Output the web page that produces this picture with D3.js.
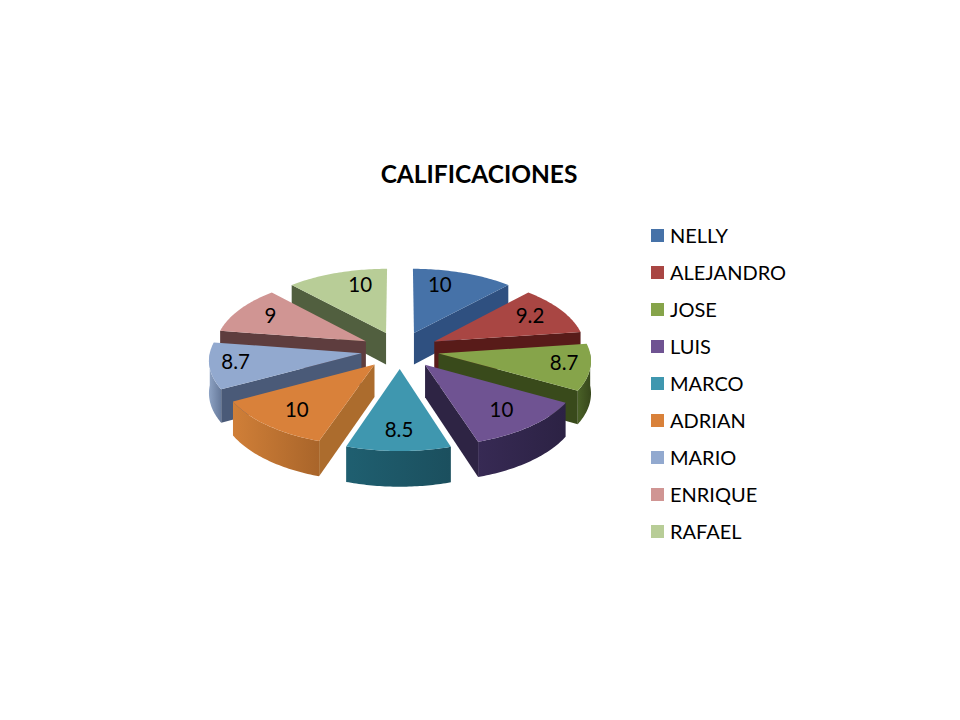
<!DOCTYPE html>
<html><head><meta charset="utf-8">
<script src="https://cdn.jsdelivr.net/npm/d3@7/dist/d3.min.js"></script>
<style>html,body{margin:0;background:#fff}svg{display:block}text{font-family:Lato,"Open Sans",sans-serif;fill:#000}</style>
</head><body><svg id="c" width="960" height="720"></svg>
<script>
const names=["NELLY","ALEJANDRO","JOSE","LUIS","MARCO","ADRIAN","MARIO","ENRIQUE","RAFAEL"];
const grades=[10,9.2,8.7,10,8.5,10,8.7,9,10];
const labels=["10","9.2","8.7","10","8.5","10","8.7","9","10"];
const topColors=["#4672A8","#A94643","#86A44A","#6F5392","#3F97AF","#D9813A","#92A9CF","#D09593","#B8CD97"];
const rimLight=["#44699A","#8E3532","#4A6127","#372A54","#1F5F70","#D07F38","#8EA3C4","#A87776","#8A9B70"];
const rimDark=["#2F4F7A","#5F201E","#37471B","#2C2244","#1B4F5E","#A9652A","#66799A","#7E5857","#606E4A"];
const sideColors=["#2F5080","#581B19","#394A1B","#2E2444","#1F5868","#AC6C2D","#4A5A78","#5E3D3E","#515F3F"];

const svg=d3.select("#c"),defs=svg.append("defs");
const cx=400,cy=350,R=155,explode=40,depth=32,tilt=.465,persp=.000527,widen=.975;
const project=(X,Y,z=0)=>{const s=1/(1-persp*Y);return [cx+widen*X*s,cy+tilt*Y*s+z*s];};
const line=d3.line();
const pie=d3.pie().sort(null).value(d=>d)(grades);
const HALF=Math.PI/2;
const labelRx=d3.scaleLinear().domain([.365,.63,.89,.98]).range([.52,.735,.75,.83]).clamp(true);

const slices=pie.map((p,i)=>{
  const mid=(p.startAngle+p.endAngle)/2;
  const ox=explode*Math.sin(mid),oy=-explode*Math.cos(mid);
  const pt=(a,r)=>[ox+r*Math.sin(a),oy-r*Math.cos(a)];
  return {i,mid,ox,oy,pt,a0:p.startAngle,a1:p.endAngle};
}).sort((a,b)=>a.oy-b.oy);

names.forEach((n,i)=>{
  const g=defs.append("linearGradient").attr("id","rim"+i);
  g.append("stop").attr("offset","0").attr("stop-color",rimLight[i]);
  g.append("stop").attr("offset","1").attr("stop-color",rimDark[i]);
});

const arcPoints=(s,a,b)=>d3.range(0,41).map(k=>s.pt(a+(b-a)*k/40,R));
slices.forEach(s=>{
  const arc=arcPoints(s,s.a0,s.a1);
  const apex=[s.ox,s.oy];
  const g=svg.append("g");
  const wall=(pts)=>pts.map(p=>project(p[0],p[1],0)).concat(pts.slice().reverse().map(p=>project(p[0],p[1],depth)));
  const ra=Math.max(s.a0,HALF),rb=Math.min(s.a1,3*HALF);
  if(rb>ra) g.append("path").attr("d",line(wall(arcPoints(s,ra,rb)))+"Z").attr("fill",`url(#rim${s.i})`);
  if(Math.sin(s.a0)<-1e-6) g.append("path").attr("d",line(wall([apex,arc[0]]))+"Z").attr("fill",sideColors[s.i]);
  if(Math.sin(s.a1)>1e-6) g.append("path").attr("d",line(wall([apex,arc[40]]))+"Z").attr("fill",sideColors[s.i]);
  g.append("path").attr("d",line([apex,...arc].map(p=>project(p[0],p[1])))+"Z").attr("fill",topColors[s.i]);
});

slices.forEach(s=>{
  const rx=R*labelRx(Math.abs(Math.sin(s.mid))),ry=R*.77;
  const q=project(s.ox+rx*Math.sin(s.mid),s.oy-ry*Math.cos(s.mid));
  svg.append("text").attr("x",q[0]).attr("y",q[1]+6).attr("text-anchor","middle")
    .attr("font-size",20.5).text(labels[s.i]);
});

svg.append("text").attr("x",479).attr("y",183).attr("text-anchor","middle")
  .attr("font-size",24.5).attr("font-weight",700).text("CALIFICACIONES");

const ly=d3.scalePoint().domain(names).range([235.5,531.5]);
const lg=svg.append("g").selectAll("g").data(names).join("g")
  .attr("transform",d=>`translate(0,${ly(d)})`);
lg.append("rect").attr("x",651).attr("y",-6.5).attr("width",13).attr("height",13)
  .attr("fill",(d,i)=>topColors[i]);
lg.append("text").attr("x",670).attr("y",7).attr("font-size",20).text(d=>d);
</script></body></html>
